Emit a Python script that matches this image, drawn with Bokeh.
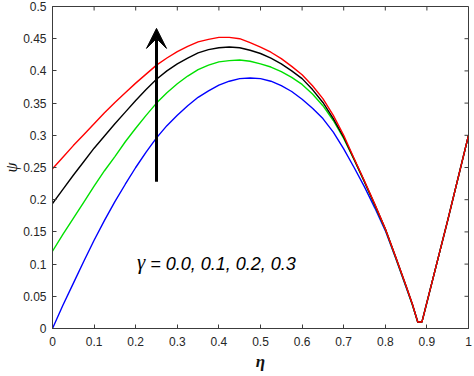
import math
from bokeh.plotting import figure
from bokeh.models import (ColumnDataSource, FixedTicker, Range1d, Arrow, VeeHead, Label)
from bokeh.embed import file_html
from bokeh.resources import INLINE

# ---- data ----
eta = [0.000, 0.025, 0.050, 0.075, 0.100, 0.125, 0.150, 0.175, 0.200, 0.225,
       0.250, 0.275, 0.300, 0.325, 0.350, 0.375, 0.400, 0.425, 0.450, 0.475,
       0.500, 0.525, 0.550, 0.575, 0.600, 0.625, 0.650, 0.675, 0.700, 0.725,
       0.750, 0.775, 0.800, 0.825, 0.850, 0.865, 0.878, 0.888, 0.950, 1.000]
psi_g00 = [0.000, 0.036, 0.070, 0.104, 0.137, 0.168, 0.197, 0.224, 0.250, 0.274,
           0.296, 0.315, 0.331, 0.346, 0.359, 0.369, 0.378, 0.384, 0.388, 0.389,
           0.388, 0.384, 0.377, 0.368, 0.356, 0.342, 0.326, 0.305, 0.279, 0.250,
           0.220, 0.187, 0.152, 0.109, 0.064, 0.037, 0.010, 0.010, 0.168, 0.300]
psi_g01 = [0.120, 0.146, 0.171, 0.196, 0.221, 0.245, 0.267, 0.290, 0.311, 0.331,
           0.350, 0.366, 0.380, 0.392, 0.402, 0.409, 0.414, 0.416, 0.417, 0.415,
           0.411, 0.406, 0.399, 0.390, 0.379, 0.364, 0.346, 0.323, 0.295, 0.262,
           0.227, 0.191, 0.154, 0.110, 0.065, 0.037, 0.010, 0.010, 0.168, 0.300]
psi_g02 = [0.194, 0.216, 0.238, 0.259, 0.280, 0.299, 0.318, 0.336, 0.354, 0.371,
           0.387, 0.400, 0.411, 0.420, 0.428, 0.433, 0.436, 0.437, 0.436, 0.432,
           0.427, 0.420, 0.411, 0.400, 0.388, 0.371, 0.351, 0.326, 0.297, 0.263,
           0.228, 0.192, 0.155, 0.111, 0.066, 0.038, 0.010, 0.010, 0.168, 0.300]
psi_g03 = [0.248, 0.266, 0.284, 0.301, 0.318, 0.335, 0.351, 0.366, 0.381, 0.395,
           0.409, 0.420, 0.430, 0.438, 0.445, 0.449, 0.452, 0.452, 0.450, 0.444,
           0.437, 0.429, 0.419, 0.407, 0.394, 0.377, 0.357, 0.331, 0.300, 0.264,
           0.229, 0.193, 0.155, 0.111, 0.066, 0.038, 0.010, 0.010, 0.168, 0.300]
series = [("g00", psi_g00, "#0000ff"), ("g01", psi_g01, "#00e000"),
          ("g02", psi_g02, "#000000"), ("g03", psi_g03, "#ff0000")]

x_ticks = [0, 0.1, 0.2, 0.3, 0.4, 0.5, 0.6, 0.7, 0.8, 0.9, 1.0]
x_tick_labels = ["0", "0.1", "0.2", "0.3", "0.4", "0.5", "0.6", "0.7", "0.8", "0.9", "1"]
y_ticks = [0, 0.05, 0.1, 0.15, 0.2, 0.25, 0.3, 0.35, 0.4, 0.45, 0.5]
y_tick_labels = ["0", "0.05", "0.1", "0.15", "0.2", "0.25", "0.3", "0.35", "0.4", "0.45", "0.5"]
x_title = "\u03b7"
y_title = "\u03c8"

arrow_x = 0.25
arrow_y0, arrow_y1 = 0.228, 0.466
gamma_label = "\u03b3"
gamma_values = "= 0.0, 0.1, 0.2, 0.3"

AX = "#3c3c3c"
TXT = "#262626"

p = figure(width=474, height=376, output_backend="svg", toolbar_location=None,
           x_range=Range1d(0, 1), y_range=Range1d(0, 0.5),
           min_border_left=52, min_border_right=6, min_border_top=6, min_border_bottom=48,
           x_axis_label=x_title, y_axis_label=y_title)
p.xgrid.visible = False
p.ygrid.visible = False
p.outline_line_color = AX
p.background_fill_color = "white"
p.border_fill_color = "white"

src = ColumnDataSource(dict(eta=eta, **{k: v for k, v, _ in series}))
for k, _, c in series:
    p.line("eta", k, source=src, line_color=c, line_width=1.4)

def style(ax, ticks, labels, standoff, title_style, title_size, title_standoff):
    ax.ticker = FixedTicker(ticks=ticks)
    ax.major_label_overrides = {t: l for t, l in zip(ticks, labels)}
    ax.minor_tick_line_color = None
    ax.major_tick_in = 4
    ax.major_tick_out = 0
    ax.axis_line_color = AX
    ax.major_tick_line_color = AX
    ax.major_label_text_font = "Liberation Sans"
    ax.major_label_text_font_size = "12px"
    ax.major_label_text_color = TXT
    ax.major_label_standoff = standoff
    ax.axis_label_text_font = "Liberation Serif"
    ax.axis_label_text_font_style = title_style
    ax.axis_label_text_font_size = title_size
    ax.axis_label_text_color = "#111111"
    ax.axis_label_standoff = title_standoff

style(p.xaxis[0], x_ticks, x_tick_labels, 8, "bold italic", "17px", 3)
style(p.yaxis[0], y_ticks, y_tick_labels, 6, "italic", "16px", 0)

# inward ticks on the top and right edges of the box
p.ray(x=x_ticks, y=[0.5] * len(x_ticks), length=4, length_units="screen",
      angle=-math.pi / 2, line_color=AX, line_width=1)
p.ray(x=[1.0] * len(y_ticks), y=y_ticks, length=4, length_units="screen",
      angle=math.pi, line_color=AX, line_width=1)

p.add_layout(Arrow(x_start=arrow_x, y_start=arrow_y0, x_end=arrow_x, y_end=arrow_y1,
                   line_width=3, line_color="black",
                   end=VeeHead(size=20, fill_color="black", line_color="black")))

p.add_layout(Label(x=0.203, y=0.084, text=gamma_label, text_font="Liberation Serif",
                   text_font_style="italic", text_font_size="21px", text_color="black"))
p.add_layout(Label(x=0.235, y=0.084, text=gamma_values, text_font="Liberation Sans",
                   text_font_style="italic", text_font_size="18px", text_color="black"))

open("out.html", "w").write(file_html(p, INLINE))
